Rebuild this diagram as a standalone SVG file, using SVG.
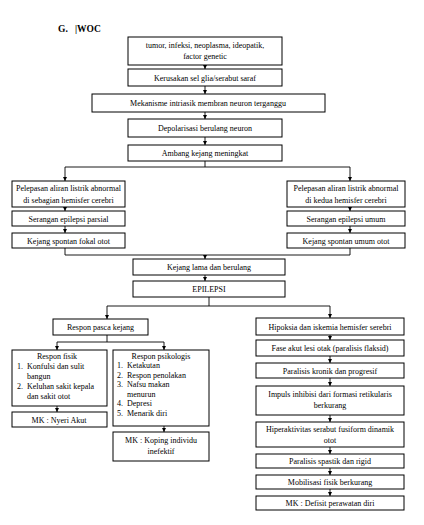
<svg xmlns="http://www.w3.org/2000/svg" width="424" height="525" viewBox="0 0 424 525">
<defs>
<marker id="ah" markerWidth="4" markerHeight="4" refX="4" refY="2" orient="auto" markerUnits="userSpaceOnUse">
<path d="M0,0 L4,2 L0,4 Z" fill="#000"/>
</marker>
<style>
rect{fill:#fff;stroke:#000;stroke-width:1}
text{font-family:"Liberation Serif","Times New Roman",serif;font-size:8px;fill:#000}
.c{text-anchor:middle}
.t{font-size:9.5px;font-weight:bold}
#connectors path{fill:none;stroke:#000;stroke-width:0.9}
.a{marker-end:url(#ah)}
</style>
</defs>
<rect x="0" y="0" width="424" height="525" style="stroke:none"/>
<g id="title"><text class="t" x="58" y="32">G.</text><text class="t" x="75" y="32">|WOC</text></g>

<g id="connectors">
<path class="a" d="M205,65 V69"/>
<path class="a" d="M205,86 V94"/>
<path class="a" d="M205,112 V119"/>
<path class="a" d="M205,137 V145"/>
<path d="M205,161 V167 M65,167 H350"/>
<path class="a" d="M65,167 V181"/>
<path class="a" d="M350,167 V181"/>
<path class="a" d="M65,207 V211"/>
<path class="a" d="M350,207 V211"/>
<path class="a" d="M65,226 V233"/>
<path class="a" d="M350,226 V233"/>
<path d="M65,248 V255 H350 V248"/>
<path class="a" d="M205,255 V259"/>
<path class="a" d="M205,275 V281"/>
<path d="M209,297 V306 M107,306 H330"/>
<path class="a" d="M107,306 V319"/>
<path class="a" d="M330,306 V318"/>
<path d="M107,335 V342 M57,342 H164"/>
<path class="a" d="M57,342 V350"/>
<path class="a" d="M164,342 V350"/>
<path class="a" d="M57,406 V412"/>
<path class="a" d="M164,426 V432"/>
<path class="a" d="M330,335 V340"/>
<path class="a" d="M330,356 V363"/>
<path class="a" d="M330,378 V386"/>
<path class="a" d="M330,415 V422"/>
<path class="a" d="M330,447 V454"/>
<path class="a" d="M330,468 V475"/>
<path class="a" d="M330,489 V496"/>
</g>

<g id="n1"><rect x="128" y="37" width="154" height="28"/><text class="c" x="205" y="47.5">tumor, infeksi, neoplasma, ideopatik,</text><text class="c" x="205" y="58.5">factor genetic</text></g>
<g id="n2"><rect x="128" y="69" width="154" height="17"/><text class="c" x="205" y="80.5">Kerusakan sel glia/serabut saraf</text></g>
<g id="n3"><rect x="92" y="94" width="233" height="18"/><text class="c" x="208" y="105.5">Mekanisme intriasik membran neuron terganggu</text></g>
<g id="n4"><rect x="128" y="119" width="154" height="18"/><text class="c" x="205" y="130.5">Depolarisasi berulang neuron</text></g>
<g id="n5"><rect x="128" y="145" width="154" height="16"/><text class="c" x="205" y="155.5">Ambang kejang meningkat</text></g>

<g id="n6"><rect x="12" y="181" width="113" height="26"/><text class="c" x="68.5" y="190.5">Pelepasan aliran listrik abnormal</text><text class="c" x="68.5" y="202.5">di sebagian hemisfer cerebri</text></g>
<g id="n7"><rect x="287" y="181" width="118" height="26"/><text class="c" x="346" y="190.5">Pelepasan aliran listrik abnormal</text><text class="c" x="346" y="202.5">di kedua hemisfer cerebri</text></g>
<g id="n8"><rect x="12" y="211" width="113" height="15"/><text class="c" x="68.5" y="221.5">Serangan epilepsi parsial</text></g>
<g id="n9"><rect x="287" y="211" width="118" height="15"/><text class="c" x="346" y="221.5">Serangan epilepsi umum</text></g>
<g id="n10"><rect x="12" y="233" width="113" height="15"/><text class="c" x="68.5" y="243.5">Kejang spontan fokal otot</text></g>
<g id="n11"><rect x="287" y="233" width="118" height="15"/><text class="c" x="346" y="243.5">Kejang spontan umum otot</text></g>

<g id="n12"><rect x="133" y="259" width="152" height="16"/><text class="c" x="209" y="269.5">Kejang lama dan berulang</text></g>
<g id="n13"><rect x="133" y="281" width="152" height="16"/><text class="c" x="209" y="291.5">EPILEPSI</text></g>

<g id="n14"><rect x="53" y="319" width="95" height="16"/><text class="c" x="100.5" y="329.5">Respon pasca kejang</text></g>
<g id="n15"><rect x="12" y="350" width="95" height="56"/>
<text class="c" x="57" y="358.5">Respon fisik</text>
<text x="17" y="368.5">1.</text><text x="27" y="368.5">Konfulsi dan sulit</text>
<text x="27" y="378.5">bangun</text>
<text x="17" y="388.5">2.</text><text x="27" y="388.5">Keluhan sakit kepala</text>
<text x="27" y="398.5">dan sakit otot</text></g>
<g id="n16"><rect x="113" y="350" width="96" height="76"/>
<text class="c" x="161" y="358.5">Respon psikologis</text>
<text x="117" y="368">1.</text><text x="127" y="368">Ketakutan</text>
<text x="117" y="377.5">2.</text><text x="127" y="377.5">Respon penolakan</text>
<text x="117" y="387">3.</text><text x="127" y="387">Nafsu makan</text>
<text x="127" y="396.5">menurun</text>
<text x="117" y="406">4.</text><text x="127" y="406">Depresi</text>
<text x="117" y="415.5">5.</text><text x="127" y="415.5">Menarik diri</text></g>
<g id="n17"><rect x="12" y="412" width="95" height="15"/><text class="c" x="59" y="422.5">MK : Nyeri Akut</text></g>
<g id="n18"><rect x="113" y="432" width="96" height="29"/><text class="c" x="161" y="442.5">MK : Koping individu</text><text class="c" x="161" y="453.5">inefektif</text></g>

<g id="n19"><rect x="256" y="318" width="148" height="17"/><text class="c" x="330" y="329.5">Hipoksia dan iskemia hemisfer serebri</text></g>
<g id="n20"><rect x="256" y="340" width="148" height="16"/><text class="c" x="330" y="350.5">Fase akut lesi otak (paralisis flaksid)</text></g>
<g id="n21"><rect x="256" y="363" width="148" height="15"/><text class="c" x="330" y="373.5">Paralisis kronik dan progresif</text></g>
<g id="n22"><rect x="256" y="386" width="148" height="29"/><text class="c" x="330" y="396.5">Impuls inhibisi dari formasi retikularis</text><text class="c" x="330" y="407.5">berkurang</text></g>
<g id="n23"><rect x="256" y="422" width="148" height="25"/><text class="c" x="330" y="431.5">Hiperaktivitas serabut fusiform dinamik</text><text class="c" x="330" y="442.5">otot</text></g>
<g id="n24"><rect x="256" y="454" width="148" height="14"/><text class="c" x="330" y="463.5">Paralisis spastik dan rigid</text></g>
<g id="n25"><rect x="256" y="475" width="148" height="14"/><text class="c" x="330" y="484.5">Mobilisasi fisik berkurang</text></g>
<g id="n26"><rect x="256" y="496" width="148" height="14"/><text class="c" x="330" y="505.5">MK : Defisit perawatan diri</text></g>
</svg>
